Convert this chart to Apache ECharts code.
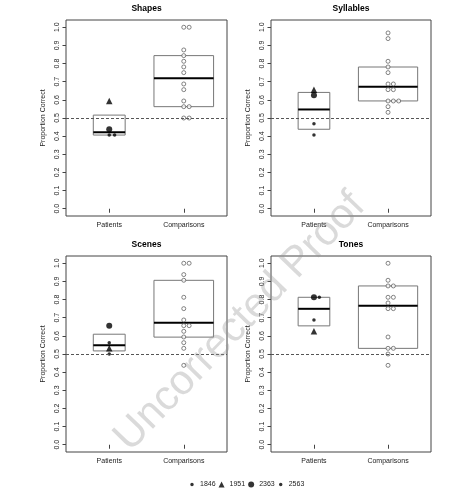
<!DOCTYPE html>
<html>
<head>
<meta charset="utf-8">
<script src="https://cdn.jsdelivr.net/npm/echarts@6/dist/echarts.min.js"></script>
<style>
html,body{margin:0;padding:0;background:#fff;}
#chart{width:474px;height:490px;}
</style>
</head>
<body>
<div id="chart"></div>
<script>
// ---------------- DATA ----------------
const panels = ['Shapes', 'Syllables', 'Scenes', 'Tones'];
const groups = ['Patients', 'Comparisons'];
const patientIds = ['1846', '1951', '2363', '2563'];
const yTicks = [0.0, 0.1, 0.2, 0.3, 0.4, 0.5, 0.6, 0.7, 0.8, 0.9, 1.0];
const chanceLevel = 0.5;

// patient scores per panel (Shapes, Syllables, Scenes, Tones)
const p1846 = [0.40625, 0.46875, 0.5625, 0.8125];
const p1951 = [0.59375, 0.65625, 0.53125, 0.625];
const p2363 = [0.4375, 0.625, 0.65625, 0.8125];
const p2563 = [0.40625, 0.40625, 0.5, 0.6875];

// comparison participants per panel
const shapesComp    = [1, 1, 0.875, 0.84375, 0.8125, 0.78125, 0.75, 0.6875, 0.65625, 0.59375, 0.5625, 0.5625, 0.5, 0.5];
const syllablesComp = [0.96875, 0.9375, 0.8125, 0.78125, 0.75, 0.6875, 0.6875, 0.65625, 0.65625, 0.59375, 0.59375, 0.59375, 0.5625, 0.53125];
const scenesComp    = [1, 1, 0.9375, 0.90625, 0.8125, 0.75, 0.6875, 0.65625, 0.65625, 0.625, 0.59375, 0.5625, 0.53125, 0.4375];
const tonesComp     = [1, 0.90625, 0.875, 0.875, 0.8125, 0.8125, 0.78125, 0.75, 0.75, 0.59375, 0.53125, 0.53125, 0.5, 0.4375];

// box summaries [low, median, high]
const patientsBox    = [[0.406, 0.422, 0.516], [0.438, 0.547, 0.641], [0.517, 0.548, 0.609], [0.655, 0.749, 0.8125]];
const comparisonsBox = [[0.5625, 0.71875, 0.84375], [0.594, 0.672, 0.781], [0.593, 0.672, 0.906], [0.531, 0.766, 0.875]];

// ---------------- LAYOUT / STYLE ----------------
const FONT = '"Liberation Sans", Arial, Helvetica, sans-serif';
const gridRects = [
  {left: 66, top: 20, width: 161, height: 196},
  {left: 271, top: 20, width: 160, height: 196},
  {left: 66, top: 256, width: 161, height: 196},
  {left: 271, top: 256, width: 160, height: 196}
];
const titleTops = [4, 4, 240, 240];
const STACK_STEP = 0.072;
const patientSeriesVals = {'1846': p1846, '1951': p1951, '2363': p2363, '2563': p2563};
const compVals = [shapesComp, syllablesComp, scenesComp, tonesComp];
const stackOrder = ['2363', '1846', '1951', '2563'];
const symbolStyle = {
  '1846': {symbol: 'circle', size: 3.5},
  '1951': {symbol: 'triangle', size: 6.5},
  '2363': {symbol: 'circle', size: 6},
  '2563': {symbol: 'circle', size: 3.5}
};
// small dot icon padded inside a 10x10 box so it renders smaller in the legend
const SMALL_DOT_ICON = 'path://M0,0M10,10M5,2.1A2.9,2.9,0,1,1,5,7.9A2.9,2.9,0,1,1,5,2.1Z';

function stackCounter() {
  const seen = {};
  return function (v) {
    const k = v.toFixed(5);
    const n = seen[k] || 0;
    seen[k] = n + 1;
    return n;
  };
}

const grid = [], xAxis = [], yAxis = [], series = [], title = [];

panels.forEach(function (name, i) {
  const g = gridRects[i];
  grid.push(Object.assign({show: true, borderColor: '#444', borderWidth: 1, backgroundColor: 'transparent'}, g));
  title.push({
    text: name, left: g.left + g.width / 2, top: titleTops[i], textAlign: 'center', padding: 0,
    textStyle: {fontFamily: FONT, fontSize: 8.5, fontWeight: 'bold', color: '#000'}
  });
  xAxis.push({
    type: 'value', gridIndex: i, min: 0.42, max: 2.58,
    axisLine: {show: false},
    splitLine: {show: false},
    axisTick: {show: true, customValues: [1, 2], length: 4, lineStyle: {color: '#444', width: 1}},
    axisLabel: {
      customValues: [1, 2], margin: 6,
      formatter: function (v) { return groups[Math.round(v) - 1] || ''; },
      fontFamily: FONT, fontSize: 7, color: '#222'
    }
  });
  yAxis.push({
    type: 'value', gridIndex: i, min: -0.04, max: 1.04,
    name: 'Proportion Correct', nameLocation: 'middle', nameGap: 19, nameRotate: 90,
    nameTextStyle: {fontFamily: FONT, fontSize: 7, color: '#222'},
    axisLine: {show: false},
    splitLine: {show: false},
    axisTick: {show: true, customValues: yTicks, length: 3.5, lineStyle: {color: '#444', width: 1}},
    axisLabel: {
      customValues: yTicks, rotate: 90, margin: 5,
      formatter: function (v) { return Number(v).toFixed(1); },
      fontFamily: FONT, fontSize: 7, color: '#222'
    }
  });

  // boxes (width proportional to sqrt(n), R varwidth)
  const nP = patientIds.length, nC = compVals[i].length, nMax = Math.max(nP, nC);
  const boxData = [
    [1].concat(patientsBox[i], [0.4 * Math.sqrt(nP / nMax)]),
    [2].concat(comparisonsBox[i], [0.4 * Math.sqrt(nC / nMax)])
  ];
  series.push({
    type: 'custom', xAxisIndex: i, yAxisIndex: i, z: 1,
    encode: {x: 0, y: [1, 2, 3]},
    data: boxData,
    renderItem: function (params, api) {
      const x = api.value(0), lo = api.value(1), med = api.value(2), hi = api.value(3), hw = api.value(4);
      const a = api.coord([x - hw, hi]), b = api.coord([x + hw, lo]);
      const m1 = api.coord([x - hw, med]), m2 = api.coord([x + hw, med]);
      return {
        type: 'group', children: [
          {type: 'rect', shape: {x: a[0], y: a[1], width: b[0] - a[0], height: b[1] - a[1]},
           style: {fill: 'none', stroke: '#777', lineWidth: 1}},
          {type: 'line', shape: {x1: m1[0], y1: m1[1], x2: m2[0], y2: m2[1]},
           style: {stroke: '#000', lineWidth: 2}}
        ]
      };
    },
    markLine: {
      silent: true, symbol: ['none', 'none'], animation: false,
      label: {show: false},
      lineStyle: {type: [3, 2], color: '#555', width: 1},
      data: [{yAxis: chanceLevel}]
    }
  });

  // comparisons (open circles, stacked)
  const cCount = stackCounter();
  series.push({
    type: 'scatter', xAxisIndex: i, yAxisIndex: i, z: 3,
    symbol: 'circle', symbolSize: 4,
    itemStyle: {color: '#fff', borderColor: '#555', borderWidth: 0.9},
    data: compVals[i].map(function (v) { return [2 + cCount(v) * STACK_STEP, v]; })
  });

  // patients (filled symbols, stacked in plotting order)
  const pCount = stackCounter();
  const pData = {};
  stackOrder.forEach(function (id) {
    const v = patientSeriesVals[id][i];
    pData[id] = [[1 + pCount(v) * STACK_STEP, v]];
  });
  patientIds.forEach(function (id) {
    series.push({
      name: id, type: 'scatter', xAxisIndex: i, yAxisIndex: i, z: 4,
      symbol: symbolStyle[id].symbol, symbolSize: symbolStyle[id].size,
      itemStyle: {color: '#000'},
      data: pData[id]
    });
  });
});

const chart = echarts.init(document.getElementById('chart'), null, {renderer: 'canvas'});
chart.setOption({
  animation: false,
  backgroundColor: '#fff',
  title: title,
  grid: grid,
  xAxis: xAxis,
  yAxis: yAxis,
  legend: {
    left: 184, top: 476, itemWidth: 6, itemHeight: 6, itemGap: 3,
    selectedMode: false,
    textStyle: {fontFamily: FONT, fontSize: 7, color: '#222'},
    data: [
      {name: '1846', icon: SMALL_DOT_ICON},
      {name: '1951', icon: 'triangle'},
      {name: '2363', icon: 'circle'},
      {name: '2563', icon: SMALL_DOT_ICON}
    ]
  },
  graphic: [{
    type: 'text', silent: true, z: 100,
    x: 240, y: 322, rotation: 46 * Math.PI / 180,
    style: {
      text: 'Uncorrected Proof', fontFamily: FONT, fontSize: 42,
      fill: 'rgba(150,150,150,0.35)', align: 'center', verticalAlign: 'middle'
    }
  }],
  series: series
});
</script>
</body>
</html>
